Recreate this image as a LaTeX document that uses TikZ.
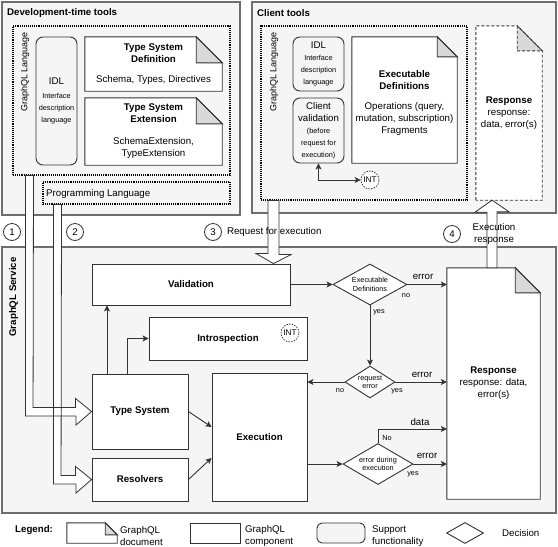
\documentclass[tikz,border=0pt]{standalone}
\usepackage{fontspec}
\setmainfont{Liberation Sans}
\usetikzlibrary{shapes.geometric,arrows.meta,positioning}
\definecolor{bggray}{HTML}{F5F5F5}
\definecolor{framegray}{HTML}{6E6E6E}
\definecolor{linegray}{HTML}{333333}
\definecolor{foldgray}{HTML}{D9D9D9}
\newcommand{\basetxt}{\fontsize{9.7}{12}\selectfont}
\newcommand{\smalltxt}{\fontsize{7.3}{12}\selectfont}
\newcommand{\decitxt}{\fontsize{7.3}{8.5}\selectfont}
\newcommand{\docframe}[4][bggray]{%
  \fill[#1] ([xshift=-#3]#2.north east) -- (#2.north east) -- ([yshift=-#3]#2.north east) -- cycle;
  \draw[#4, fill=foldgray] ([xshift=-#3]#2.north east) |- ([yshift=-#3]#2.north east) -- cycle;
  \draw[#4] (#2.south west) -- (#2.north west) -- ([xshift=-#3]#2.north east) -- ([yshift=-#3]#2.north east) -- (#2.south east) -- cycle;}

\begin{document}
\begin{tikzpicture}[x=1pt,y=-1pt,font=\basetxt]
\tikzset{outerbox/.style={draw=framegray, line width=1.2pt, fill=bggray, inner sep=0pt},
  dotbox/.style={draw=black, densely dotted, line width=1.1pt, inner sep=0pt},
  compbox/.style={draw=linegray, line width=0.9pt, fill=white, inner sep=0pt, align=center},
  docbox/.style={fill=white, inner sep=0pt, align=center},
  docline/.style={draw=linegray, line width=0.9pt},
  supbox/.style={draw=linegray, line width=0.9pt, fill=bggray, rounded corners=7pt, inner sep=0pt, align=center, font=\smalltxt},
  decis/.style={diamond, shape aspect=1.6, draw=linegray, line width=0.9pt, fill=white, inner sep=0pt, align=center, font=\decitxt},
  intcirc/.style={circle, draw=linegray, dash pattern=on 1.5pt off 1.2pt, line width=0.7pt, fill=white, inner sep=0pt, minimum size=18pt, font=\fontsize{8.2}{9}\selectfont},
  numcirc/.style={circle, draw=linegray, line width=0.8pt, inner sep=0pt, minimum size=17pt},
  flow/.style={draw=linegray, line width=0.9pt, -{Stealth[length=6pt,width=6pt,inset=1.5pt]}},
  flowboth/.style={draw=linegray, line width=0.9pt, {Stealth[length=6pt,width=6pt,inset=1.5pt]}-{Stealth[length=6pt,width=6pt,inset=1.5pt]}},
  arrowfill/.style={fill=white},
  arrowline/.style={draw=linegray, line width=0.8pt},
  bigarrow/.style={draw=linegray, line width=0.8pt, fill=white},
  lbl/.style={inner sep=0pt},
  slbl/.style={inner sep=0pt, font=\smalltxt},
  langtxt/.style={inner sep=0pt, rotate=90, font=\fontsize{9}{11}\selectfont},
  titletxt/.style={inner sep=0pt, font=\basetxt\bfseries}}
\useasboundingbox (0,0) rectangle (558,547);

\node[outerbox, minimum width=238pt, minimum height=213pt] (devtools) at (121,108.5) {};
\node[outerbox, minimum width=304pt, minimum height=211pt] (clienttools) at (404,107.5) {};
\node[outerbox, minimum width=554pt, minimum height=266pt] (service) at (279,380) {};
\node[titletxt, anchor=west] (devtitle) at (7,13) {Development-time tools};
\node[titletxt, anchor=west] (clienttitle) at (257,13) {Client tools};
\node[titletxt, rotate=90] (servicetitle) at (13.5,297) {GraphQL Service};

\node[dotbox, minimum width=217pt, minimum height=149pt] (devlang) at (121.5,100.5) {};
\node[langtxt] (devlangtitle) at (25,72) {GraphQL Language};
\node[dotbox, minimum width=187pt, minimum height=22pt] (proglang) at (136.5,193) {};
\node[lbl, anchor=west] (proglangtitle) at (46,193.5) {Programming Language};
\node[dotbox, minimum width=206pt, minimum height=174pt] (clientlang) at (364,113) {};
\node[langtxt] (clientlangtitle) at (274,72) {GraphQL Language};

\node[supbox, minimum width=41pt, minimum height=128pt] (devidl) at (56.5,101) {{\basetxt IDL}\\[2pt]Interface\\description\\language};
\node[docbox, minimum width=137pt, minimum height=54pt] (tsdef) at (153.5,64) {\textbf{Type System}\\\textbf{Definition}\\[8pt]Schema, Types, Directives};
\docframe{tsdef}{26pt}{docline}
\node[docbox, minimum width=137pt, minimum height=67pt] (tsext) at (153.5,131.5) {\textbf{Type System}\\\textbf{Extension}\\[10pt]SchemaExtension,\\TypeExtension};
\docframe{tsext}{26pt}{docline}

\node[supbox, minimum width=51pt, minimum height=54pt] (cidl) at (318.5,64) {{\basetxt IDL}\\Interface\\description\\language};
\node[supbox, minimum width=51pt, minimum height=65pt] (cval) at (318.5,130.5) {{\basetxt Client}\\{\basetxt validation}\\(before\\request for\\execution)};
\node[docbox, minimum width=105pt, minimum height=126pt] (edefs) at (404.5,100) {\mbox{}\\[2pt]\textbf{Executable}\\\textbf{Definitions}\\[8pt]Operations (query,\\mutation, subscription)\\Fragments};
\docframe{edefs}{20pt}{docline}
\node[intcirc] (cint) at (370,180) {INT};
\node[docbox, minimum width=66pt, minimum height=174pt] (cresp) at (509,113) {\textbf{Response}\\response:\\data, error(s)};
\docframe{cresp}{25pt}{docline, dash pattern=on 3pt off 2pt}
\draw[flowboth] (cval.south) |- (cint.west);

\node[compbox, minimum width=198pt, minimum height=41pt] (val) at (191,284.5) {\textbf{Validation}};
\node[compbox, minimum width=158pt, minimum height=43pt] (intro) at (228,338.5) {\textbf{Introspection}};
\node[intcirc] (sint) at (290,333) {INT};
\node[compbox, minimum width=96pt, minimum height=75pt] (ts) at (140,411.5) {\textbf{Type System}};
\node[compbox, minimum width=96pt, minimum height=43pt] (res) at (140,479.5) {\textbf{Resolvers}};
\node[compbox, minimum width=95pt, minimum height=128pt] (exec) at (259.5,437) {\textbf{Execution}};
\node[docbox, minimum width=93pt, minimum height=231pt] (resp) at (493.5,383.5) {\textbf{Response}\\response: data,\\error(s)};
\docframe{resp}{25pt}{docline}
\node[decis, minimum width=74pt, minimum height=41pt] (ed) at (370,284.5) {Executable\\Definitions};
\node[decis, minimum width=50pt, minimum height=32pt] (reqerr) at (370,382) {request\\error};
\node[decis, minimum width=70pt, minimum height=41pt] (exerr) at (378,464) {error during\\execution};

\foreach \st in {arrowfill,arrowline} {
  \path[\st] (ts.west) -- ++(-16,-13) -- ++(0,9) -- ++(-42.5,0) -- (devlang.south -| 33.5,0) -- ++(-8,0) -- ++(0,240.5) -- ++(50.5,0) -- ++(0,9) -- cycle;
  \path[\st] (res.west) -- ++(-16,-13) -- ++(0,9) -- ++(-14.5,0) -- (proglang.south -| 61.5,0) -- ++(-8,0) -- ++(0,279.5) -- ++(22.5,0) -- ++(0,9) -- cycle;
}
\path[bigarrow] (val.north -| 273.5,0) -- ++(-17.5,-10) -- ++(12,0) -- (clientlang.south -| 268,0) -- ++(11,0) -- ++(0,54) -- ++(12,0) -- cycle;
\path[bigarrow] (cresp.south -| 492,0) -- ++(-17,12) -- ++(12,0) -- (resp.north -| 487,0) -- ++(10,0) -- ++(0,-56) -- ++(12,0) -- cycle;

\node[numcirc] (n1) at (12,232) {1};
\node[numcirc] (n2) at (75,232) {2};
\node[numcirc] (n3) at (213,232) {3};
\node[lbl, right=5pt of n3] (reqlbl) {Request for execution};
\node[numcirc] (n4) at (452,234) {4};
\node[lbl, align=center] (resplbl) at (494,234) {Execution\\response};

\draw[flow] (ts.north -| 107,0) -- (val.south -| 107,0);
\draw[flow] (ts.north -| 127,0) |- (intro.west);
\draw[flow] (ts.east) -- ([yshift=10pt]exec.west);
\draw[flow] (res.east) -- ([yshift=-21pt]exec.west);
\draw[flow] (val.east) -- (ed.west);
\draw[flow] (ed.east) -- (ed.east -| resp.west);
\draw[flow] (ed.south) -- (reqerr.north);
\draw[flow] (reqerr.west) -- (reqerr.west -| exec.east);
\draw[flow] (reqerr.east) -- (reqerr.east -| resp.west);
\draw[flow] (exerr.west -| exec.east) -- (exerr.west);
\draw[flow] (exerr.north) |- ([yshift=-45.5pt]resp.west);
\draw[flow] (exerr.east) -- (exerr.east -| resp.west);

\node[lbl] (ederror) at (423,277) {error};
\node[slbl] (edno) at (406,296) {no};
\node[slbl] (edyes) at (379,312) {yes};
\node[lbl] (rqerror) at (422,375) {error};
\node[slbl] (rqno) at (340,391) {no};
\node[slbl] (rqyes) at (397,391) {yes};
\node[lbl] (exdata) at (420,422) {data};
\node[slbl] (exno) at (387,438) {No};
\node[lbl] (exerror) at (427,456) {error};
\node[slbl] (exyes) at (413,474) {yes};

\node[titletxt, anchor=west] (legtitle) at (15,530) {Legend:};
\node[docbox, minimum width=50pt, minimum height=20pt] (legdoc) at (92,533) {};
\docframe[white]{legdoc}{12pt}{docline}
\node[lbl, align=left, anchor=west] (legdoctxt) at (120,536) {GraphQL\\document};
\node[compbox, minimum width=50pt, minimum height=20pt] (legcomp) at (215,533) {};
\node[lbl, align=left, anchor=west] (legcomptxt) at (245,536) {GraphQL\\component};
\node[supbox, rounded corners=5pt, minimum width=48pt, minimum height=20pt] (legsup) at (341,533) {};
\node[lbl, align=left, anchor=west] (legsuptxt) at (372,536) {Support\\functionality};
\node[decis, minimum width=37pt, minimum height=21pt] (legdec) at (465,533) {};
\node[lbl, anchor=west] (legdectxt) at (502,533) {Decision};
\end{tikzpicture}
\end{document}
